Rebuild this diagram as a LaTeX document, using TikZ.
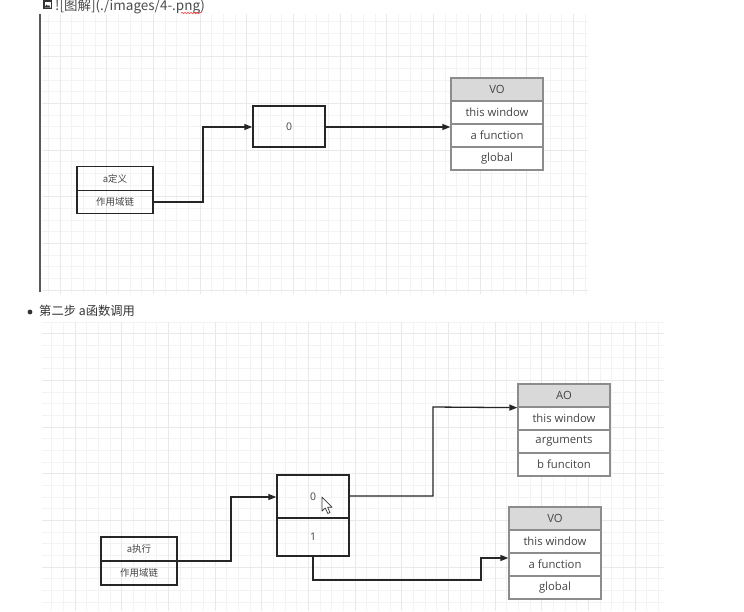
\documentclass[tikz,border=0pt]{standalone}
\usepackage{fontspec}
\newfontfamily\cjk{Noto Sans CJK SC}
\newfontfamily\lat{Open Sans}
\usetikzlibrary{arrows.meta,decorations.pathmorphing}
\definecolor{gridminor}{HTML}{F3F3F5}
\definecolor{gridmajor}{HTML}{E9E9EC}
\definecolor{txt}{HTML}{444444}
\definecolor{hdr}{HTML}{D9D9D9}
\definecolor{tblline}{HTML}{8C8C8C}
\tikzset{
  cell/.style={draw=black!85, line width=1.4pt, inner sep=0pt, text=txt,
    font=\cjk\fontsize{9.5}{11}\selectfont},
  numcell/.style={cell, font=\lat\fontsize{10.5}{12}\selectfont},
  tcell/.style={draw=tblline, line width=1.3pt, fill=white, inner sep=0pt, text=txt,
    minimum width=92pt, minimum height=23pt, font=\lat\fontsize{11.3}{13}\selectfont},
  thead/.style={tcell, fill=hdr},
  conn/.style={line width=1.3pt, black!85, -{Triangle[length=8pt,width=6pt]}},
  minorline/.style={gridminor, line width=0.7pt},
  majorline/.style={gridmajor, line width=0.9pt},
}
\begin{document}
\begin{tikzpicture}[x=1pt,y=-1pt]
\useasboundingbox (0,0) rectangle (744,611);
\fill[white] (0,0) rectangle (744,611);
% ---------- grids ----------
\begin{scope}
\clip (42,14) rectangle (588,294);
\foreach \i in {-3,...,50} {\draw[minorline] (60+11.667*\i,14) -- (60+11.667*\i,294);}
\foreach \i in {-3,...,30} {\draw[minorline] (42,243.3-11.667*\i) -- (588,243.3-11.667*\i);}
\foreach \i in {-1,...,12} {\draw[majorline] (60+46.667*\i,14) -- (60+46.667*\i,294);}
\foreach \i in {-1,...,6} {\draw[majorline] (42,243.3-46.667*\i) -- (588,243.3-46.667*\i);}
\end{scope}
\begin{scope}
\clip (42,322) rectangle (664,611);
\foreach \i in {-3,...,55} {\draw[minorline] (28.3+11.667*\i,322) -- (28.3+11.667*\i,611);}
\foreach \i in {-3,...,30} {\draw[minorline] (42,333.7+11.667*\i) -- (664,333.7+11.667*\i);}
\foreach \i in {0,...,14} {\draw[majorline] (28.3+46.667*\i,322) -- (28.3+46.667*\i,611);}
\foreach \i in {-1,...,7} {\draw[majorline] (42,333.7+46.667*\i) -- (664,333.7+46.667*\i);}
\end{scope}
% ---------- header line ----------
\fill[black!80] (43,0) rectangle (52,9);
\fill[white] (44.5,1.5) rectangle (50.5,7.5);
\fill[black!80] (44.5,7.5) -- (46.5,4.5) -- (48,6) -- (49,5) -- (50.5,7.5) -- cycle;
\node[anchor=base west, inner sep=0pt, text=black!70, font=\cjk\fontsize{13.5}{15}\selectfont] (imgline) at (55,10.5) {![图解](./images/4-.png)};
\draw[red!80, line width=0.6pt, decorate, decoration={snake, amplitude=0.6pt, segment length=3pt}] (imgline.base east) ++(-24,2.5) -- ++(20,0);
\draw[black!65, line width=2pt] (40,14) -- (40,292);
% ---------- top diagram ----------
\node[cell, minimum width=76pt, minimum height=23.5pt] (adef) at (115,178.5) {a定义};
\node[cell, minimum width=76pt, minimum height=23.5pt] (chain1) at (115,202) {作用域链};
\node[numcell, minimum width=72pt, minimum height=41pt] (zero1) at (289,126.5) {0};
\node[thead] (vo1h) at (497,89.5) {VO};
\node[tcell] (vo1a) at (497,112.5) {this window};
\node[tcell] (vo1b) at (497,135.5) {a function};
\node[tcell] (vo1c) at (497,158.5) {global};
\draw[conn] (chain1.east) -- (203,202) -- (203,127) -- (zero1.west |- 0,127);
\draw[conn] (zero1.east |- 0,127) -- (vo1a.west |- 0,127);
% ---------- bullet ----------
\fill[black!80] (30,312) circle (2.4pt);
\node[anchor=west, inner sep=0pt, text=black!80, font=\cjk\fontsize{12.3}{14}\selectfont] (step2) at (39,311) {第二步 a函数调用};
% ---------- bottom diagram ----------
\node[cell, minimum width=76pt, minimum height=24pt] (aexec) at (139,549) {a执行};
\node[cell, minimum width=76pt, minimum height=24pt] (chain2) at (139,573) {作用域链};
\node[numcell, minimum width=72pt, minimum height=43pt] (zero2) at (313,496.5) {0};
\node[numcell, minimum width=72pt, minimum height=38pt] (one2) at (313,537) {1};
\node[thead] (aoh) at (564,395.5) {AO};
\node[tcell] (aoa) at (564,418.5) {this window};
\node[tcell] (aob) at (564,441.5) {arguments};
\node[tcell] (aoc) at (564,464.5) {b funciton};
\node[thead] (vo2h) at (555,518.5) {VO};
\node[tcell] (vo2a) at (555,541.5) {this window};
\node[tcell] (vo2b) at (555,564.5) {a function};
\node[tcell] (vo2c) at (555,587.5) {global};
\draw[conn] (chain2.east |- 0,561) -- (231,561) -- (231,497) -- (zero2.west |- 0,497);
\draw[conn] (zero2.east |- 0,496) -- (433,496) -- (433,407) -- (aoh.south west);
\draw[conn] (one2.south) -- (313,580) -- (481,580) -- (481,558) -- (vo2a.west |- 0,558);
% ---------- mouse cursor ----------
\filldraw[fill=white, draw=black!80, line width=0.7pt, line join=round]
  (322,497) -- (322,511) -- (325.3,508) -- (327.8,513.5) -- (330,512.5) -- (327.6,507.2) -- (332,507.2) -- cycle;
\end{tikzpicture}
\end{document}
